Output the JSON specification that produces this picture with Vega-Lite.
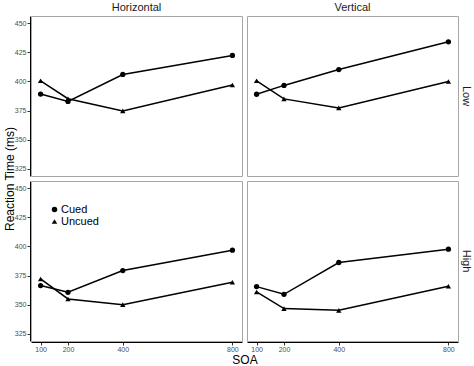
{
  "$schema": "https://vega.github.io/schema/vega-lite/v6.json",
  "padding": {"left": 3, "top": 2, "right": 2, "bottom": 0},
  "data": {"values": [
    {"Orientation": "Horizontal", "Load": "Low", "Cue": "Cued", "SOA": 100, "RT": 389.2},
    {"Orientation": "Horizontal", "Load": "Low", "Cue": "Cued", "SOA": 200, "RT": 382.8},
    {"Orientation": "Horizontal", "Load": "Low", "Cue": "Cued", "SOA": 400, "RT": 406.0},
    {"Orientation": "Horizontal", "Load": "Low", "Cue": "Cued", "SOA": 800, "RT": 422.4},
    {"Orientation": "Horizontal", "Load": "Low", "Cue": "Uncued", "SOA": 100, "RT": 400.6},
    {"Orientation": "Horizontal", "Load": "Low", "Cue": "Uncued", "SOA": 200, "RT": 385.2},
    {"Orientation": "Horizontal", "Load": "Low", "Cue": "Uncued", "SOA": 400, "RT": 374.7},
    {"Orientation": "Horizontal", "Load": "Low", "Cue": "Uncued", "SOA": 800, "RT": 396.9},
    {"Orientation": "Vertical", "Load": "Low", "Cue": "Cued", "SOA": 100, "RT": 389.0},
    {"Orientation": "Vertical", "Load": "Low", "Cue": "Cued", "SOA": 200, "RT": 396.6},
    {"Orientation": "Vertical", "Load": "Low", "Cue": "Cued", "SOA": 400, "RT": 410.2},
    {"Orientation": "Vertical", "Load": "Low", "Cue": "Cued", "SOA": 800, "RT": 434.1},
    {"Orientation": "Vertical", "Load": "Low", "Cue": "Uncued", "SOA": 100, "RT": 400.6},
    {"Orientation": "Vertical", "Load": "Low", "Cue": "Uncued", "SOA": 200, "RT": 385.0},
    {"Orientation": "Vertical", "Load": "Low", "Cue": "Uncued", "SOA": 400, "RT": 377.3},
    {"Orientation": "Vertical", "Load": "Low", "Cue": "Uncued", "SOA": 800, "RT": 400.0},
    {"Orientation": "Horizontal", "Load": "High", "Cue": "Cued", "SOA": 100, "RT": 366.4},
    {"Orientation": "Horizontal", "Load": "High", "Cue": "Cued", "SOA": 200, "RT": 360.6},
    {"Orientation": "Horizontal", "Load": "High", "Cue": "Cued", "SOA": 400, "RT": 379.3},
    {"Orientation": "Horizontal", "Load": "High", "Cue": "Cued", "SOA": 800, "RT": 396.8},
    {"Orientation": "Horizontal", "Load": "High", "Cue": "Uncued", "SOA": 100, "RT": 372.1},
    {"Orientation": "Horizontal", "Load": "High", "Cue": "Uncued", "SOA": 200, "RT": 354.9},
    {"Orientation": "Horizontal", "Load": "High", "Cue": "Uncued", "SOA": 400, "RT": 350.0},
    {"Orientation": "Horizontal", "Load": "High", "Cue": "Uncued", "SOA": 800, "RT": 369.3},
    {"Orientation": "Vertical", "Load": "High", "Cue": "Cued", "SOA": 100, "RT": 365.5},
    {"Orientation": "Vertical", "Load": "High", "Cue": "Cued", "SOA": 200, "RT": 358.9},
    {"Orientation": "Vertical", "Load": "High", "Cue": "Cued", "SOA": 400, "RT": 386.2},
    {"Orientation": "Vertical", "Load": "High", "Cue": "Cued", "SOA": 800, "RT": 397.7},
    {"Orientation": "Vertical", "Load": "High", "Cue": "Uncued", "SOA": 100, "RT": 360.9},
    {"Orientation": "Vertical", "Load": "High", "Cue": "Uncued", "SOA": 200, "RT": 346.6},
    {"Orientation": "Vertical", "Load": "High", "Cue": "Uncued", "SOA": 400, "RT": 345.1},
    {"Orientation": "Vertical", "Load": "High", "Cue": "Uncued", "SOA": 800, "RT": 365.8}
  ]},
  "facet": {
    "column": {"field": "Orientation", "type": "nominal", "sort": ["Horizontal", "Vertical"], "title": "SOA",
      "header": {"titleOrient": "bottom", "titleFontSize": 12, "titleFontWeight": "normal", "titleColor": "black", "titleFont": "Liberation Sans", "titlePadding": -7,
        "labelOrient": "top", "labelFontSize": 11, "labelFont": "Liberation Sans", "labelColor": "#1a1a1a", "labelPadding": 2}},
    "row": {"field": "Load", "type": "nominal", "sort": ["Low", "High"], "title": "Reaction Time (ms)",
      "header": {"titleOrient": "left", "titleFontSize": 12, "titleFontWeight": "normal", "titleColor": "black", "titleFont": "Liberation Sans", "titlePadding": -13,
        "labelOrient": "right", "labelAngle": 90, "labelFontSize": 11, "labelFont": "Liberation Sans", "labelColor": "#1a1a1a", "labelPadding": 2}}
  },
  "spacing": 3,
  "spec": {
    "width": 211,
    "height": 160,
    "encoding": {
      "x": {"field": "SOA", "type": "quantitative", "scale": {"domain": [65, 835], "nice": false, "zero": false}, "axis": {"values": [100, 200, 400, 800], "title": null, "labelOverlap": false, "labelPadding": 0}},
      "y": {"field": "RT", "type": "quantitative", "scale": {"domain": [318.75, 456.25], "nice": false, "zero": false}, "axis": {"values": [325, 350, 375, 400, 425, 450], "title": null, "labelOverlap": false}}
    },
    "layer": [
      {
        "mark": {"type": "line", "color": "black", "strokeWidth": 1.5},
        "encoding": {"detail": {"field": "Cue", "type": "nominal"}}
      },
      {
        "mark": {"type": "point", "filled": true, "color": "black", "opacity": 1, "size": 28},
        "encoding": {
          "shape": {"field": "Cue", "type": "nominal", "scale": {"domain": ["Cued", "Uncued"], "range": ["circle", "triangle-up"]},
            "legend": {"title": null, "orient": "none", "legendX": 18, "legendY": 188, "labelFontSize": 11, "labelFont": "Liberation Sans", "labelColor": "black", "symbolFillColor": "black", "symbolStrokeColor": "black", "symbolSize": 30, "rowPadding": -3, "labelOffset": 1, "padding": 0}}
        }
      }
    ]
  },
  "config": {
    "font": "Liberation Sans",
    "view": {"stroke": "#a6a6a6", "strokeWidth": 1},
    "axis": {"grid": false, "domainColor": "black", "domainWidth": 1, "tickColor": "#333333", "tickSize": 3, "labelColor": "#4d4d4d", "labelFontSize": 7, "labelFont": "Liberation Sans", "labelPadding": 1, "labelOverlap": false, "labelFlush": false}
  }
}
